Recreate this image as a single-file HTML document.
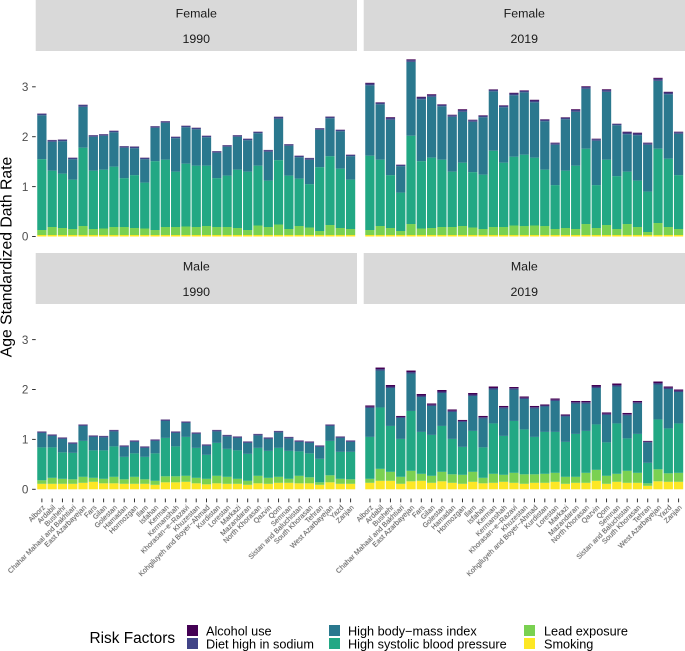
<!DOCTYPE html>
<html lang="en">
<head>
<meta charset="utf-8">
<title>Age Standardized Death Rate by Risk Factor</title>
<style>
html,body{margin:0;padding:0;background:#fff;width:685px;height:651px;overflow:hidden}
svg{display:block;font-family:"Liberation Sans",Arial,sans-serif}
</style>
</head>
<body>
<svg id="chart" xmlns="http://www.w3.org/2000/svg" width="685" height="651" viewBox="0 0 685 651"></svg>
<script>
const provinces = ["Alborz","Ardabil","Bushehr","Chahar Mahaal and Bakhtiari","East Azarbayejan","Fars","Gilan","Golestan","Hamadan","Hormozgan","Ilam","Isfahan","Kerman","Kermanshah","Khorasan−e−Razavi","Khuzestan","Kohgiluyeh and Boyer−Ahmad","Kurdistan","Lorestan","Markazi","Mazandaran","North Khorasan","Qazvin","Qom","Semnan","Sistan and Baluchistan","South Khorasan","Tehran","West Azarbayejan","Yazd","Zanjan"];
const yTicks = [0,1,2,3];
const riskFactors = ["Smoking","Lead exposure","High systolic blood pressure","High body−mass index","Diet high in sodium","Alcohol use"];

const female1990Smoking = [.03,.03,.03,.03,.03,.03,.03,.03,.03,.03,.03,.03,.03,.03,.03,.03,.03,.03,.03,.03,.03,.03,.03,.03,.03,.03,.03,.03,.03,.03,.03];
const female1990Lead = [.10,.16,.14,.12,.18,.12,.13,.16,.16,.14,.13,.10,.16,.16,.17,.16,.18,.16,.16,.14,.10,.19,.16,.21,.12,.18,.15,.08,.20,.14,.12];
const female1990Sbp = [1.42,1.13,1.09,.99,1.57,1.17,1.18,1.21,.98,1.06,.92,1.38,1.35,1.11,1.26,1.23,1.21,.98,1.03,1.17,1.17,1.20,.93,1.29,1.07,.95,.87,1.28,1.38,1.19,.99];
const female1990Bmi = [.88,.58,.65,.41,.82,.68,.68,.69,.61,.54,.47,.67,.74,.67,.73,.73,.57,.51,.58,.66,.63,.65,.58,.83,.60,.43,.49,.75,.76,.75,.47];
const female1990Sodium = [.03,.03,.03,.025,.035,.025,.025,.025,.025,.03,.025,.025,.025,.025,.025,.025,.025,.025,.025,.025,.025,.025,.03,.035,.025,.025,.03,.025,.03,.025,.025];
const female1990Alcohol = [.005,.005,.005,.005,.005,.005,.005,.005,.005,.005,.005,.005,.005,.005,.005,.005,.005,.005,.005,.005,.005,.005,.005,.005,.005,.005,.005,.005,.005,.005,.005];

const female2019Smoking = [.03,.03,.03,.03,.03,.03,.03,.03,.03,.03,.03,.03,.03,.03,.03,.03,.03,.03,.03,.03,.03,.03,.03,.03,.03,.03,.03,.03,.03,.03,.03];
const female2019Lead = [.10,.18,.14,.08,.22,.13,.14,.16,.16,.18,.15,.12,.16,.16,.19,.18,.19,.18,.12,.14,.12,.22,.14,.20,.12,.22,.16,.06,.24,.16,.12];
const female2019Sbp = [1.49,1.33,1.06,.77,1.77,1.35,1.41,1.35,1.11,1.27,1.11,1.09,1.53,1.29,1.38,1.43,1.36,1.13,.88,1.15,1.27,1.51,.86,1.31,1.06,1.05,.93,.81,1.49,1.37,1.08];
const female2019Bmi = [1.41,1.11,1.11,.53,1.48,1.24,1.22,1.07,1.10,1.02,1.01,1.15,1.19,1.11,1.23,1.25,1.11,.97,.81,1.03,1.08,1.20,.89,1.36,1.02,.75,.91,.94,1.36,1.29,.83];
const female2019Sodium = [.035,.03,.035,.025,.035,.035,.035,.03,.03,.035,.03,.03,.03,.03,.035,.03,.035,.03,.03,.03,.035,.035,.03,.035,.025,.035,.035,.03,.04,.035,.03];
const female2019Alcohol = [.015,.01,.015,.005,.015,.015,.015,.01,.01,.015,.01,.01,.01,.01,.015,.01,.015,.01,.01,.01,.015,.015,.01,.015,.005,.015,.015,.01,.02,.015,.01];

const male1990Smoking = [.11,.11,.11,.11,.13,.15,.12,.12,.11,.11,.11,.09,.14,.14,.15,.12,.10,.12,.11,.11,.09,.12,.11,.13,.13,.12,.12,.09,.14,.11,.11];
const male1990Lead = [.07,.12,.10,.09,.12,.08,.09,.13,.09,.14,.09,.08,.12,.12,.12,.11,.11,.15,.14,.10,.08,.15,.12,.12,.08,.15,.12,.05,.14,.10,.09];
const male1990Sbp = [.66,.61,.53,.53,.72,.55,.57,.61,.45,.47,.45,.55,.77,.60,.78,.60,.48,.66,.56,.57,.54,.56,.54,.58,.56,.49,.48,.47,.69,.54,.55];
const male1990Bmi = [.29,.23,.27,.18,.30,.27,.26,.30,.20,.23,.18,.25,.34,.27,.28,.28,.18,.23,.25,.25,.22,.25,.24,.31,.25,.19,.21,.24,.30,.28,.20];
const male1990Sodium = [.025,.025,.025,.025,.025,.025,.025,.025,.025,.025,.025,.025,.025,.025,.025,.025,.025,.025,.025,.025,.025,.025,.025,.025,.025,.025,.025,.025,.025,.025,.025];
const male1990Alcohol = [.005,.005,.005,.005,.005,.005,.005,.005,.005,.005,.005,.005,.005,.005,.005,.005,.005,.005,.005,.005,.005,.005,.005,.005,.005,.005,.005,.005,.005,.005,.005];

const male2019Smoking = [.13,.17,.17,.11,.16,.17,.13,.16,.13,.11,.15,.12,.13,.15,.13,.11,.13,.13,.15,.11,.13,.13,.17,.11,.15,.13,.13,.07,.16,.15,.15];
const male2019Lead = [.08,.24,.18,.14,.21,.14,.14,.19,.17,.18,.20,.11,.18,.14,.20,.19,.17,.18,.18,.14,.12,.20,.22,.16,.16,.24,.20,.05,.24,.17,.18];
const male2019Sbp = [.84,1.23,.92,.76,1.20,.84,.82,.92,.71,.56,.82,.61,1.01,.78,1.04,.90,.75,.84,.82,.70,.86,.84,.91,.67,1.01,.65,.78,.41,1.00,.90,.99];
const male2019Bmi = [.58,.74,.76,.42,.75,.70,.58,.66,.54,.50,.70,.58,.68,.55,.63,.61,.57,.51,.62,.51,.61,.55,.73,.55,.74,.46,.61,.41,.70,.79,.63];
const male2019Sodium = [.025,.03,.03,.02,.03,.03,.025,.03,.025,.02,.03,.025,.03,.025,.025,.025,.025,.02,.025,.02,.025,.025,.03,.025,.03,.025,.025,.015,.03,.025,.025];
const male2019Alcohol = [.025,.03,.03,.02,.03,.03,.025,.03,.025,.02,.03,.025,.03,.025,.025,.025,.025,.02,.025,.02,.025,.025,.03,.025,.03,.025,.025,.015,.03,.025,.025];

const female1990 = [female1990Smoking,female1990Lead,female1990Sbp,female1990Bmi,female1990Sodium,female1990Alcohol];
const female2019 = [female2019Smoking,female2019Lead,female2019Sbp,female2019Bmi,female2019Sodium,female2019Alcohol];
const male1990 = [male1990Smoking,male1990Lead,male1990Sbp,male1990Bmi,male1990Sodium,male1990Alcohol];
const male2019 = [male2019Smoking,male2019Lead,male2019Sbp,male2019Bmi,male2019Sodium,male2019Alcohol];

const svg = document.getElementById('chart');
const NS = 'http://www.w3.org/2000/svg';
const colors = ['#FDE725','#7AD151','#22A884','#2A788E','#414487','#440154'];
const step = 10.29, barW = 9.26, unit = 49.9;

function mk(tag, attrs, parent, text){
  const e = document.createElementNS(NS, tag);
  for (const k in attrs) e.setAttribute(k, attrs[k]);
  if (text !== undefined) e.textContent = text;
  (parent || svg).appendChild(e);
  return e;
}
function slug(s){ return s.toLowerCase().replace(/[^a-z0-9]+/g,'-'); }

function drawPanel(cfg){
  const xScale = i => cfg.left + 0.6*step + i*step;
  const yScale = v => cfg.zero - v*unit;

  const strip = mk('rect',{x:cfg.left,y:cfg.stripTop,width:321.3,height:51,fill:'#d9d9d9'});
  
  
  const t1 = mk('text',{x:cfg.left+160.6,y:cfg.stripTop+17.5,'text-anchor':'middle','font-size':'12.4',fill:'#1a1a1a'},svg,cfg.sex);
  
  
  const t2 = mk('text',{x:cfg.left+160.6,y:cfg.stripTop+42.8,'text-anchor':'middle','font-size':'12.4',fill:'#1a1a1a'},svg,cfg.year);
  
  

  const group = mk('g',{style:'filter:blur(.3px)'});
  
  
  provinces.forEach((p,i)=>{
    let acc = 0;
    cfg.data.forEach((series,s)=>{
      const v = series[i];
      const r = mk('rect',{x:xScale(i)-barW/2,y:yScale(acc+v),width:barW,height:v*unit,fill:colors[s]},group);
      
      
      acc += v;
    });
  });

  if (cfg.showY){
    yTicks.forEach(v=>{
      const tk = mk('line',{x1:cfg.left-3.6,x2:cfg.left,y1:yScale(v),y2:yScale(v),stroke:'#333','stroke-width':1});
      
      
      const lb = mk('text',{x:cfg.left-7.3,y:yScale(v)+4.2,'text-anchor':'end','font-size':'11.7',fill:'#4d4d4d'},svg,v);
      
      
    });
  }
  if (cfg.showX){
    provinces.forEach((p,i)=>{
      const x = xScale(i);
      const tk = mk('line',{x1:x,x2:x,y1:498.5,y2:502.3,stroke:'#333','stroke-width':1});
      
      
      const lb = mk('text',{transform:'translate('+(x+3.8)+' 508) rotate(-45)','text-anchor':'end','font-size':'7.2',fill:'#4d4d4d',style:'filter:blur(.2px)'},svg,p);
      
      
    });
  }
}

drawPanel({key:'female-1990',sex:'Female',year:'1990',left:35.7,stripTop:0,zero:236.5,data:female1990,showY:true,showX:false});
drawPanel({key:'female-2019',sex:'Female',year:'2019',left:363.7,stripTop:0,zero:236.5,data:female2019,showY:false,showX:false});
drawPanel({key:'male-1990',sex:'Male',year:'1990',left:35.7,stripTop:253,zero:489.3,data:male1990,showY:true,showX:true});
drawPanel({key:'male-2019',sex:'Male',year:'2019',left:363.7,stripTop:253,zero:489.3,data:male2019,showY:false,showX:true});

const yTitle = mk('text',{transform:'translate(11.5 257) rotate(-90)','text-anchor':'middle','font-size':'15.75',fill:'#000'},svg,'Age Standardized Dath Rate');



const legendTitle = mk('text',{x:89.5,y:643,'font-size':'15.4',fill:'#000'},svg,'Risk Factors');



const legendLabels = ['Alcohol use','Diet high in sodium','High body−mass index','High systolic blood pressure','Lead exposure','Smoking'];
const legendColors = ['#440154','#414487','#2A788E','#22A884','#7AD151','#FDE725'];
const legendX = [187,187,329,329,524,524];
const legendY = [625,638,625,638,625,638];
const legendTextX = [206,206,348,348,544,544];
legendLabels.forEach((l,i)=>{
  const k = mk('rect',{x:legendX[i],y:legendY[i],width:11,height:11,fill:legendColors[i]});
  
  
  const t = mk('text',{x:legendTextX[i],y:legendY[i]+10.5,'font-size':'12.7',fill:'#000'},svg,l);
  
  
});
</script>
</body>
</html>
